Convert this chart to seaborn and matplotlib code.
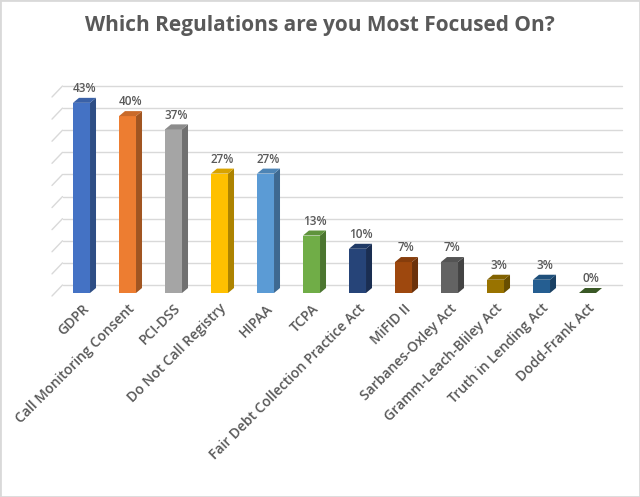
import matplotlib
matplotlib.use("Agg")
import matplotlib.pyplot as plt
from matplotlib.patches import Polygon, Rectangle
from matplotlib.colors import to_rgb
import seaborn as sns
import pandas as pd

# data
regulations = ["GDPR", "Call Monitoring Consent", "PCI-DSS", "Do Not Call Registry",
               "HIPAA", "TCPA", "Fair Debt Collection Practice Act", "MiFID II",
               "Sarbanes-Oxley Act", "Gramm-Leach-Bliley Act", "Truth in Lending Act",
               "Dodd-Frank Act"]
percent = [43, 40, 37, 27, 27, 13, 10, 7, 7, 3, 3, 0]
bar_colors = ["#4472C4", "#ED7D31", "#A5A5A5", "#FFC000", "#5B9BD5", "#70AD47",
              "#264478", "#9E480E", "#636363", "#997300", "#255E91", "#43682B"]
title = "Which Regulations are you Most Focused On?"

sns.set_theme(style="white")
plt.rcParams["font.family"] = ["Open Sans", "DejaVu Sans"]

W, H = 640, 497
fig = plt.figure(figsize=(6.4, 4.97), dpi=100)

# plot area in pixels
left_px, right_px = 58.5, 610.5
base_px, top_px = 293.0, 94.0
ymax = 45
ax = fig.add_axes([left_px / W, (H - base_px) / H, (right_px - left_px) / W,
                   (base_px - top_px) / H])

df = pd.DataFrame({"reg": regulations, "pct": percent})
sns.barplot(data=df, x="reg", y="pct", hue="reg", palette=bar_colors, legend=False,
            width=0.37, saturation=1, ax=ax, zorder=3)
ax.set_xlim(-0.5, len(regulations) - 0.5)
ax.set_ylim(0, ymax)

xs = (right_px - left_px) / len(regulations)   # px per x unit
ys = (base_px - top_px) / ymax                 # px per y unit


def px2data(px, py):
    return -0.5 + (px - left_px) / xs, (base_px - py) / ys


# back wall gridlines and left wall diagonals
for v in range(0, ymax + 1, 5):
    fy = base_px - v * ys
    x0, y0 = px2data(62.5, fy - 8)
    x1, y1 = px2data(622, fy - 8)
    ax.plot([x0, x1], [y0, y1], color="#D9D9D9", lw=1, zorder=0, clip_on=False)
    x2, y2 = px2data(52, fy + 3)
    ax.plot([x2, x0], [y2, y0], color="#D9D9D9", lw=1, zorder=0, clip_on=False)

# 3D side and top faces built from the drawn bars
dx, dy = 6 / xs, 5 / ys
for p, col in zip(ax.patches, bar_colors):
    x, w, h = p.get_x(), p.get_width(), p.get_height()
    r, g, b = to_rgb(col)
    side = (r * 0.68, g * 0.68, b * 0.68)
    topc = (r * 0.85, g * 0.85, b * 0.85)
    p.set_edgecolor("none")
    if h > 0:
        ax.add_patch(Polygon([(x + w, 0), (x + w + dx, dy), (x + w + dx, h + dy), (x + w, h)],
                             closed=True, facecolor=side, edgecolor="none", zorder=3,
                             clip_on=False))
    ax.add_patch(Polygon([(x, h), (x + dx, h + dy), (x + w + dx, h + dy), (x + w, h)],
                         closed=True, facecolor=topc, edgecolor="none", zorder=3,
                         clip_on=False))
    ax.annotate(f"{int(h)}%", (x + (w + dx) / 2, h + dy), xytext=(0, 2),
                textcoords="offset points", ha="center", va="bottom",
                fontsize=8.5, color="#595959", fontweight="semibold")

sns.despine(ax=ax, left=True, bottom=True)
ax.set_yticks([])
ax.set_xlabel("")
ax.set_ylabel("")
ax.set_xticks(range(len(regulations)))
ax.set_xticklabels(regulations, rotation=45, ha="right", rotation_mode="anchor",
                   fontsize=10, color="#595959", fontweight="semibold")
ax.tick_params(axis="x", length=0, pad=6)

fig.text(0.5, 1 - 25 / H, title, ha="center", va="center", fontsize=15,
         fontweight="bold", color="#595959")
fig.patches.append(Rectangle((0, 0), 1, 1, transform=fig.transFigure, fill=False,
                             edgecolor="#D9D9D9", lw=2))

fig.savefig("out.png", dpi=100, facecolor="white")
